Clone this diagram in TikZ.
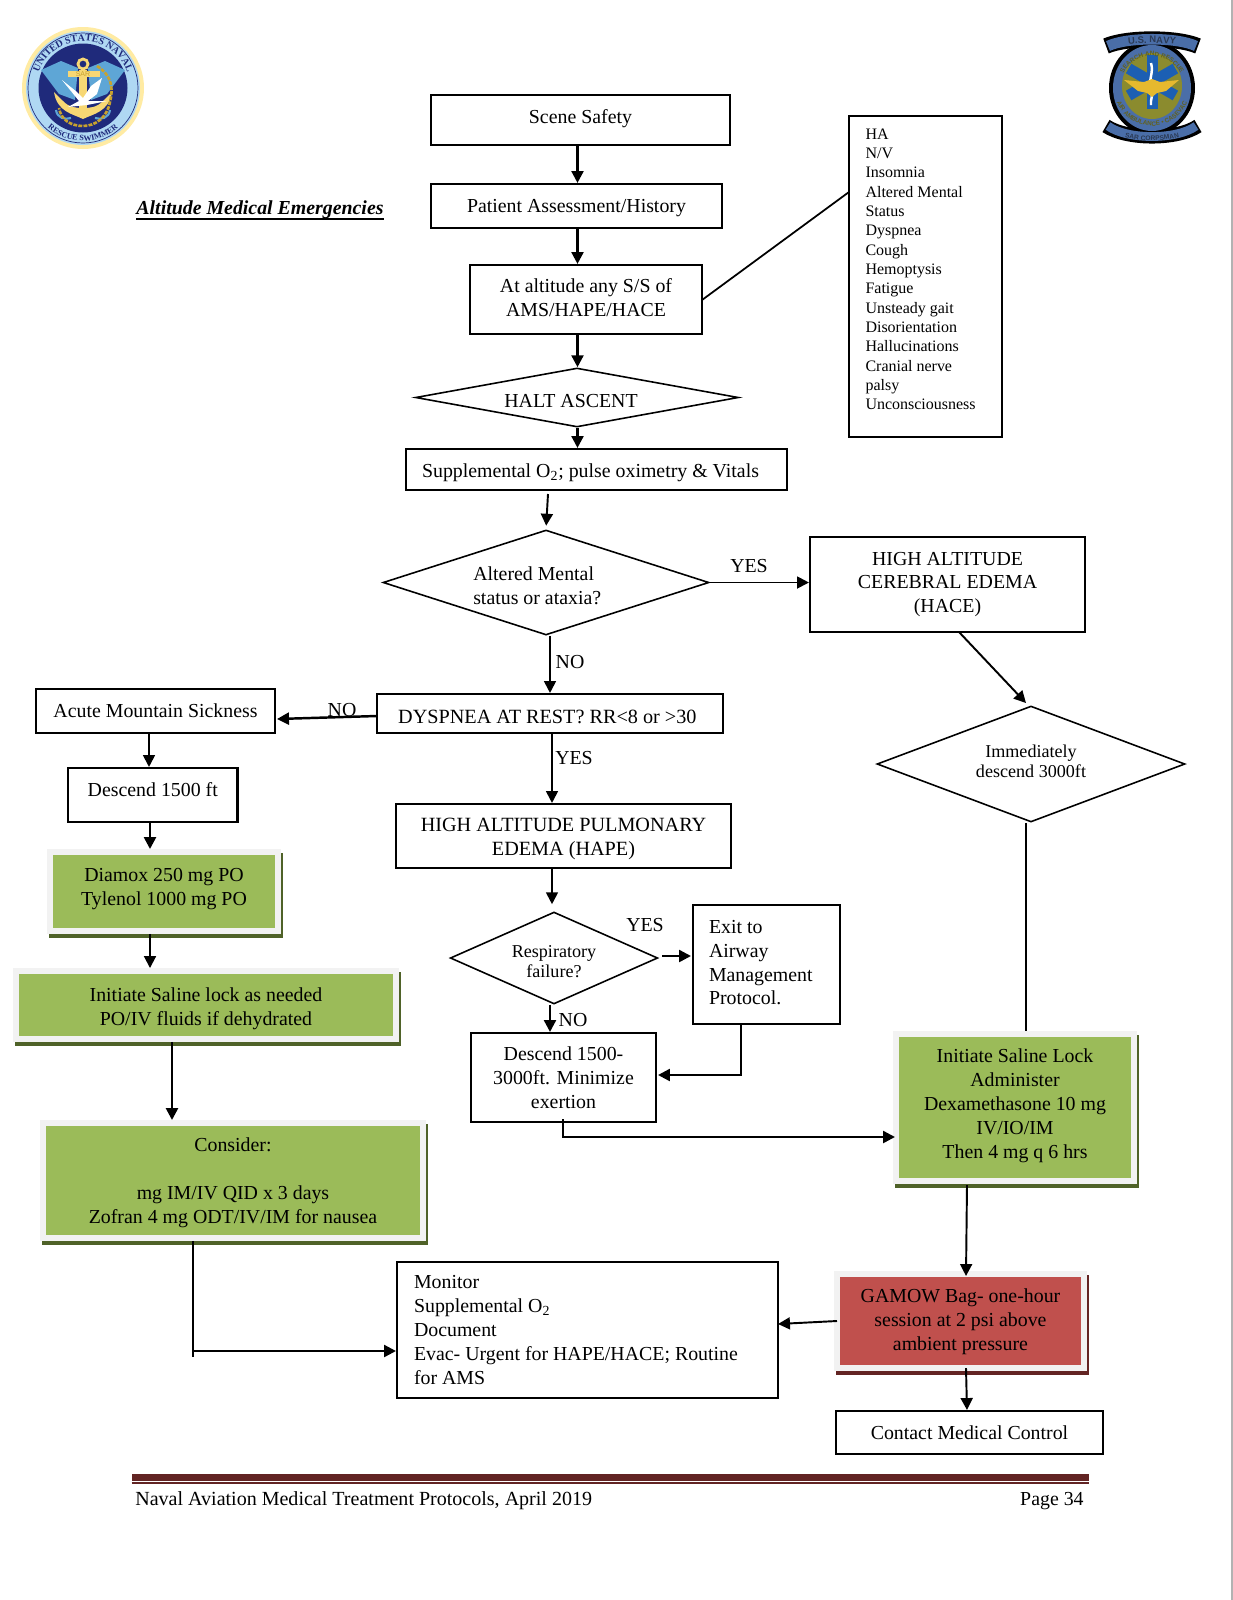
\documentclass[tikz,border=0pt]{standalone}
\usepackage{fontspec}
\setmainfont{Liberation Serif}
\setsansfont{Liberation Sans}
\usetikzlibrary{arrows.meta,shapes.geometric,shadows,decorations.text}

\definecolor{greenfill}{HTML}{9BBB59}
\definecolor{greenshade}{HTML}{4F6228}
\definecolor{redfill}{HTML}{C0504D}
\definecolor{redshade}{HTML}{632423}
\definecolor{paleedge}{HTML}{F2F2F2}
\definecolor{rulered}{HTML}{622423}
\definecolor{rimyellow}{HTML}{FFEBA3}
\definecolor{ringblue}{HTML}{AFD8F3}
\definecolor{sealnavy}{HTML}{1F2A7B}
\definecolor{finblue}{HTML}{5EA6D6}
\definecolor{anchorgold}{HTML}{F7D774}
\definecolor{chaingold}{HTML}{C8A22E}
\definecolor{badgeblue}{HTML}{4A6EA8}
\definecolor{badgeolive}{HTML}{8B8B2E}
\definecolor{badgeink}{HTML}{2B3A55}
\definecolor{starblue}{HTML}{1C5FB3}
\definecolor{wingold}{HTML}{E6B92E}

\newcommand{\bodyfs}{\fontsize{11.3}{13.6}\selectfont}
\newcommand{\capsfs}{\fontsize{11.5}{13.6}\selectfont}
\newcommand{\listfs}{\fontsize{9.1}{11}\selectfont}
\newcommand{\immfs}{\fontsize{10.3}{11}\selectfont}
\newcommand{\respfs}{\fontsize{10.3}{11.5}\selectfont}
% struts, they move the text of a node up or down a little
\newcommand{\txtup}[1]{\rule[-#1]{0pt}{0pt}}
\newcommand{\txtdown}[1]{\rule{0pt}{#1}}

\tikzset{
    flowbox/.style={draw,line width=1.2pt,inner sep=0pt,align=center,font=\bodyfs},
    leftbox/.style={flowbox,align=flush left},
    decision/.style={draw,shape=diamond,line width=0.9pt,inner sep=0pt,align=center,font=\bodyfs},
    greenbox/.style={draw=paleedge,fill=greenfill,line width=3.4pt,inner sep=0pt,align=center,font=\bodyfs,
        general shadow={draw=greenshade,fill=greenshade,line width=3.4pt,shadow xshift=1.1pt,shadow yshift=-2.3pt}},
    redbox/.style={draw=paleedge,fill=redfill,line width=3.4pt,inner sep=0pt,align=center,font=\bodyfs,
        general shadow={draw=redshade,fill=redshade,line width=3.4pt,shadow xshift=1.1pt,shadow yshift=-2.3pt}},
    flow/.style={-{Triangle[length=6.8pt,width=6.8pt]},line width=1.4pt},
    thinflow/.style={flow,line width=1.1pt},
    plain/.style={line width=1pt},
    tag/.style={font=\bodyfs,inner sep=0pt}
}

\begin{document}
\begin{tikzpicture}[x=0.02cm,y=-0.02cm]
    \useasboundingbox (0,0) rectangle (1233,1600);

    % Page edge
    \draw[gray!60,line width=0.7pt] (1232,0) -- (1232,1600);

    % Rescue swimmer seal
    \begin{scope}[shift={(83,88)}]
        \fill[rimyellow] (0,0) circle[radius=61];
        \fill[ringblue] (0,0) circle[radius=57];
        \draw[sealnavy,line width=0.4pt] (0,0) circle[radius=55];
        \fill[sealnavy] (0,0) circle[radius=44.5];
        \fill[finblue] (-42,-18) -- (-22,-27) -- (-5,-20) -- (-8,12) -- (-24,6) -- cycle;
        \fill[finblue] (42,-18) -- (22,-27) -- (5,-20) -- (8,12) -- (24,6) -- cycle;
        \draw[finblue,line width=1.2pt] (-27,22) .. controls (-26,30) and (-18,32) .. (-12,30);
        \draw[finblue,line width=1.2pt] (27,22) .. controls (26,30) and (18,32) .. (12,30);
        \draw[anchorgold,line width=1.6pt] (0,-24) circle[radius=5];
        \fill[anchorgold] (-15,-17) rectangle (17,-11);
        \fill[anchorgold] (-4,-18) rectangle (4,28);
        \fill[anchorgold] (-29,4) .. controls (-26,24) and (-10,26) .. (0,31)
            .. controls (10,26) and (26,24) .. (29,4) -- (21,12)
            .. controls (14,20) and (6,20) .. (0,20)
            .. controls (-6,20) and (-14,20) .. (-21,12) -- cycle;
        \draw[chaingold,line width=1.5pt,dash pattern=on 2.2pt off 0.7pt] (14,-22)
            .. controls (30,-12) and (30,2) .. (27,14)
            .. controls (24,30) and (12,38) .. (0,38)
            .. controls (-12,38) and (-22,32) .. (-24,20);
        \fill[white] (-21,-8) -- (-6,4) -- (0,10) -- (8,-2) -- (19,-10) -- (14,6) -- (5,13)
            -- (24,13) -- (4,17) -- (-15,19) -- (-4,13) -- cycle;
        \node[font=\fontsize{4}{4}\selectfont\sffamily,text=chaingold,inner sep=0pt] (sarmark) at (0,-14) {SAR};
        \path[decorate,decoration={text along path,text align=center,
            text={|\fontsize{5.6}{6}\selectfont\bfseries\color{sealnavy}|UNITED STATES NAVAL}}]
            (-47,0) arc[start angle=180,end angle=360,radius=47];
        \path[decorate,decoration={text along path,text align=center,
            text={|\fontsize{4.6}{5}\selectfont\bfseries\color{sealnavy}|RESCUE SWIMMER}}]
            (-53,0) arc[start angle=180,end angle=0,radius=53];
    \end{scope}

    % Corpsman badge
    \begin{scope}[shift={(1152,88)}]
        \draw[black,line width=9pt] (-46,-42) .. controls (-25,-51) and (25,-51) .. (46,-42);
        \draw[black,line width=8pt] (-46,38) .. controls (-25,52) and (25,52) .. (46,38);
        \fill[black] (0,0) ellipse[x radius=43,y radius=47];
        \draw[badgeblue,line width=6pt] (-44,-42) .. controls (-25,-51) and (25,-51) .. (44,-42);
        \draw[badgeblue,line width=5pt] (-44,38) .. controls (-25,52) and (25,52) .. (44,38);
        \fill[badgeblue] (0,0) ellipse[x radius=39,y radius=43];
        \fill[badgeolive] (0,-2) ellipse[x radius=30,y radius=33];
        \foreach \ang in {30,90,150}
            \fill[starblue,shift={(0,-6)},rotate=\ang] (-27,-5.5) rectangle (27,5.5);
        \draw[white,line width=1.4pt] (-1,-25) .. controls (2,-15) and (-4,-8) .. (-1,0) .. controls (2,6) and (-2,12) .. (-1,17);
        \fill[wingold] (-28,-8) -- (-8,-6) -- (0,-9) -- (8,-6) -- (27,-8) -- (14,3) -- (5,5)
            -- (0,9) -- (-5,5) -- (-14,3) -- cycle;
        \path[decorate,decoration={text along path,text align=center,
            text={|\fontsize{5.4}{6}\selectfont\sffamily\bfseries\color{badgeink}|U.S. NAVY}}]
            (-46,-39) .. controls (-25,-47) and (25,-47) .. (46,-39);
        \path[decorate,decoration={text along path,text align=center,
            text={|\fontsize{3.6}{4}\selectfont\sffamily\bfseries\color{badgeolive!70!black}|SEARCH AND RESCUE}}]
            (-32,0) arc[start angle=180,end angle=360,radius=32];
        \path[decorate,decoration={text along path,text align=center,
            text={|\fontsize{3.6}{4}\selectfont\sffamily\bfseries\color{badgeolive!70!black}|AIR AMBULANCE • CASEVAC}}]
            (-38,0) arc[start angle=180,end angle=0,radius=38];
        \path[decorate,decoration={text along path,text align=center,
            text={|\fontsize{3.8}{4}\selectfont\sffamily\bfseries\color{badgeink}|SAR CORPSMAN}}]
            (-46,42) .. controls (-25,56) and (25,56) .. (46,42);
    \end{scope}

    % Title
    \node[font=\fontsize{11.3}{13.6}\selectfont\bfseries\itshape,inner sep=0pt] (title) at (260,210) {Altitude Medical Emergencies};
    \draw[line width=1.1pt] ([yshift=-2.3pt]title.base west) -- ([yshift=-2.3pt]title.base east);

    % Main column
    \node[flowbox,minimum width=5.98cm,minimum height=1cm] (scene) at (580.5,120) {Scene Safety\txtup{3.8pt}};
    \node[flowbox,minimum width=5.82cm,minimum height=0.88cm] (patient) at (576.5,206) {\txtdown{10pt}Patient Assessment/History};
    \node[flowbox,minimum width=4.64cm,minimum height=1.38cm] (altitude) at (586,299.5) {At altitude any S/S of\\AMS/HAPE/HACE\txtup{2.5pt}};
    \node[decision,shape aspect=5,minimum width=6.46cm,minimum height=1.18cm] (halt) at (577,397.5) {\txtdown{11.2pt}HALT ASCENT\hspace*{6.8pt}};
    \node[leftbox,text width=6.98cm,inner xsep=0.32cm,minimum height=0.82cm] (vitals) at (596.5,469.5) {\txtdown{11.2pt}Supplemental O\textsubscript{2}; pulse oximetry \& Vitals};

    % Symptom list
    \node[leftbox,font=\listfs,text width=2.4cm,inner xsep=0.33cm,minimum height=6.42cm] (symptoms) at (925.5,276.5) {HA\\N/V\\Insomnia\\Altered Mental\\Status\\Dyspnea\\Cough\\Hemoptysis\\Fatigue\\Unsteady gait\\Disorientation\\Hallucinations\\Cranial nerve\\palsy\\Unconsciousness\txtup{8.4pt}};

    % First decision and HACE branch
    \node[decision,shape aspect=3,minimum width=6.52cm,minimum height=2.1cm] (altered) at (546,582.5) {\txtdown{11.2pt}Altered Mental\hspace*{14pt}\\status or ataxia?\hspace*{10pt}};
    \node[flowbox,minimum width=5.5cm,minimum height=1.9cm] (hace) at (947.5,584.5) {HIGH ALTITUDE\\CEREBRAL EDEMA\\(HACE)};
    \node[decision,font=\immfs,shape aspect=3,minimum width=6.16cm,minimum height=2.32cm] (immediately) at (1031,764) {Immediately\\descend 3000ft\txtup{3pt}};
    \node[greenbox,minimum width=4.76cm,minimum height=2.94cm] (saline) at (1015,1107.5) {Initiate Saline Lock\\Administer\\Dexamethasone 10 mg\\IV/IO/IM\\Then 4 mg q 6 hrs\txtup{4.75pt}};
    \node[redbox,minimum width=4.94cm,minimum height=1.89cm] (gamow) at (960.5,1321) {\txtdown{8.9pt}GAMOW Bag- one-hour\\session at 2 psi above\\ambient pressure};
    \node[flowbox,minimum width=5.34cm,minimum height=0.86cm] (contact) at (969.5,1432.5) {Contact Medical Control};

    % Dyspnea and AMS column
    \node[flowbox,font=\capsfs,minimum width=6.92cm,minimum height=0.78cm] (dyspnea) at (550,713.5) {\txtdown{11.2pt}DYSPNEA AT REST? RR<8 or >30\hspace*{3pt}};
    \node[flowbox,minimum width=4.78cm,minimum height=0.88cm] (acute) at (155.5,711) {Acute Mountain Sickness};
    \node[flowbox,minimum width=3.39cm,minimum height=1.08cm] (descendA) at (152.75,795) {Descend 1500 ft\txtup{6.8pt}};
    \node[greenbox,minimum width=4.56cm,minimum height=1.58cm] (diamox) at (164,891.5) {Diamox 250 mg PO\\Tylenol 1000 mg PO\txtup{5.1pt}};
    \node[greenbox,minimum width=7.6cm,minimum height=1.36cm] (fluids) at (206,1005) {\txtdown{11.8pt}Initiate Saline lock as needed\\PO/IV fluids if dehydrated};
    \node[greenbox,minimum width=7.6cm,minimum height=2.3cm] (consider) at (233,1180.5) {\txtdown{10.6pt}Consider:\\\mbox{}\\mg IM/IV QID x 3 days\\Zofran 4 mg ODT/IV/IM for nausea};

    % HAPE column
    \node[flowbox,font=\capsfs,minimum width=6.71cm,minimum height=1.28cm] (hape) at (563.5,836) {\txtdown{11.2pt}HIGH ALTITUDE PULMONARY\\EDEMA (HAPE)};
    \node[decision,font=\respfs,shape aspect=2.3,minimum width=4.15cm,minimum height=1.84cm] (resp) at (554,958) {\txtdown{10.5pt}Respiratory\\failure?};
    \node[leftbox,text width=2.3cm,inner xsep=0.32cm,minimum height=2.38cm] (exit) at (766.5,964.5) {Exit to\\Airway\\Management\\Protocol.\txtup{2.3pt}};
    \node[flowbox,minimum width=3.7cm,minimum height=1.78cm] (descendB) at (563.5,1077.5) {Descend 1500-\\3000ft. Minimize\\exertion};
    \node[leftbox,text width=6.94cm,inner xsep=0.34cm,minimum height=2.72cm] (monitor) at (587.5,1330) {Monitor\\Supplemental O\textsubscript{2}\\Document\\Evac- Urgent for HAPE/HACE; Routine\\for AMS};

    % Lanes for the connectors
    \coordinate (laneTop) at (577.5,0);
    \coordinate (laneAms) at (149,0);
    \coordinate (laneDes) at (150,0);
    \coordinate (laneFlu) at (172,0);
    \coordinate (laneNo) at (550,0);
    \coordinate (laneYes) at (552,0);
    \coordinate (laneImm) at (1026,0);
    \coordinate (laneExit) at (741,0);
    \coordinate (vitalsOut) at (548,494);
    \coordinate (altitudeTap) at (702,300);
    \coordinate (symptomsTap) at (849,192);
    \coordinate (dyspneaOut) at (377,716);
    \coordinate (acuteIn) at (277,719);
    \coordinate (haceOut) at (959,632);
    \coordinate (immIn) at (1026,703);
    \coordinate (respOut) at (662,956);
    \coordinate (exitIn) at (691,956);
    \coordinate (exitBend) at (741,1075);
    \coordinate (desIn) at (658,1075);
    \coordinate (desOut) at (563,1119);
    \coordinate (desBend) at (563,1137);
    \coordinate (salineIn) at (895,1137);
    \coordinate (salineOut) at (967,1185);
    \coordinate (gamowIn) at (966,1276);
    \coordinate (gamowOut) at (966,1368);
    \coordinate (contactIn) at (967,1410);
    \coordinate (gamowLeft) at (837,1321);
    \coordinate (monitorIn) at (778,1324);
    \coordinate (considerBend) at (193,1351);
    \coordinate (considerEnd) at (193,1357);

    % Connectors
    \draw[flow] (scene.south -| laneTop) -- (patient.north -| laneTop);
    \draw[flow] (patient.south -| laneTop) -- (altitude.north -| laneTop);
    \draw[flow] (altitude.south -| laneTop) -- (halt.north -| laneTop);
    \draw[flow] (halt.south -| laneTop) -- (vitals.north -| laneTop);
    \draw[plain] (altitudeTap) -- (symptomsTap);
    \draw[thinflow,shorten >=2pt] (vitalsOut) -- (altered.north);
    \draw[thinflow] (altered.east) -- (hace.west |- altered.east);
    \draw[thinflow] (altered.south -| laneNo) -- (dyspnea.north -| laneNo);
    \draw[flow] (dyspneaOut) -- (acuteIn);
    \draw[thinflow] (acute.south -| laneAms) -- (descendA.north -| laneAms);
    \draw[flow] (descendA.south -| laneDes) -- (diamox.north -| laneDes);
    \draw[thinflow] (diamox.south -| laneDes) -- (fluids.north -| laneDes);
    \draw[flow] (fluids.south -| laneFlu) -- (consider.north -| laneFlu);
    \draw[thinflow] (dyspnea.south -| laneYes) -- (hape.north -| laneYes);
    \draw[thinflow,shorten >=4pt] (hape.south -| laneYes) -- (resp.north -| laneYes);
    \draw[flow] (respOut) -- (exitIn);
    \draw[flow] (resp.south -| laneNo) -- (descendB.north -| laneNo);
    \draw[flow] (exit.south -| laneExit) -- (exitBend) -- (desIn);
    \draw[flow] (desOut) -- (desBend) -- (salineIn);
    \draw[thinflow] (haceOut) -- (immIn);
    \draw[plain] (immediately.south -| laneImm) -- (saline.north -| laneImm);
    \draw[thinflow] (salineOut) -- (gamowIn);
    \draw[thinflow] (gamowOut) -- (contactIn);
    \draw[thinflow] (gamowLeft) -- (monitorIn);
    \draw[plain] (consider.south -| considerBend) -- (considerEnd);
    \draw[flow] (considerBend) -- (monitor.west |- considerBend);

    % Branch labels
    \node[tag] (yesHace) at (749,566) {YES};
    \node[tag] (noDyspnea) at (570,662) {NO};
    \node[tag] (noAcute) at (342,710) {NO};
    \node[tag] (yesHape) at (574,758) {YES};
    \node[tag] (yesResp) at (645,925) {YES};
    \node[tag] (noResp) at (573,1020) {NO};

    % Footer
    \fill[rulered] (131.5,1474) rectangle (1089,1481);
    \draw[rulered,line width=0.7pt] (131.5,1483) -- (1089,1483);
    \node[tag,font=\fontsize{11.4}{13.6}\selectfont,anchor=west] (footerLeft) at (135,1501) {Naval Aviation Medical Treatment Protocols, April 2019};
    \node[tag,anchor=east] (footerRight) at (1084,1501) {Page 34};
\end{tikzpicture}
\end{document}
